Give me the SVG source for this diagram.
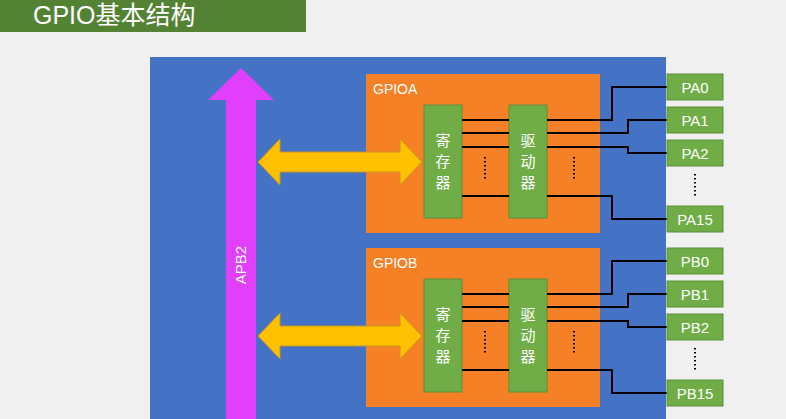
<svg xmlns="http://www.w3.org/2000/svg" width="786" height="419" viewBox="0 0 786 419">
<defs>
<style>
.t{font-family:"Liberation Sans","Noto Sans CJK SC",sans-serif;fill:#fff}
.g{fill:#70AD47;stroke:#5A8F3A;stroke-width:1}
.w{fill:none;stroke:#000;stroke-width:2}
.d{stroke:#000;stroke-width:2;stroke-dasharray:1.5 2.5}
</style>
<g id="gp">
<rect x="366" y="74" width="234" height="159" fill="#F58026"/>
<polygon points="258,162 280,139 280,152 400,152 400,139 422,162 400,185 400,172 280,172 280,185" fill="#FFC000" stroke="#C8961E" stroke-width="1"/>
<rect class="g" x="424" y="105" width="38" height="113"/>
<rect class="g" x="509" y="105" width="38" height="113"/>
<text class="t" x="443" y="146" font-size="15" text-anchor="middle">寄</text>
<text class="t" x="443" y="167" font-size="15" text-anchor="middle">存</text>
<text class="t" x="443" y="188" font-size="15" text-anchor="middle">器</text>
<text class="t" x="528" y="146" font-size="15" text-anchor="middle">驱</text>
<text class="t" x="528" y="167" font-size="15" text-anchor="middle">动</text>
<text class="t" x="528" y="188" font-size="15" text-anchor="middle">器</text>
<path class="w" d="M462 120H509M462 133H509M462 147H509M462 196H509"/>
<path class="w" d="M547 120H612V87H667M547 133H628V120H667M547 147H628V153H667M547 196H612V219H667"/>
<line class="d" x1="485" y1="157" x2="485" y2="180"/>
<line class="d" x1="574" y1="157" x2="574" y2="180"/>
<line class="d" x1="695" y1="174" x2="695" y2="198" stroke-width="1.5"/>
</g>
</defs>
<rect width="786" height="419" fill="#F0F0F0"/>
<g id="title">
<rect x="0" y="0" width="306" height="32" fill="#548235"/>
<text class="t" x="33" y="24" font-size="25">GPIO基本结构</text>
</g>
<rect id="board" x="150" y="57" width="516" height="362" fill="#4472C4"/>
<g id="apb2">
<polygon points="241,68 274,100 256,100 256,419 226,419 226,100 208,100" fill="#E040FB"/>
<text class="t" x="247" y="265" font-size="15" text-anchor="middle" transform="rotate(-90 247 265)" dy="-1">APB2</text>
</g>
<g id="connectors">
<use href="#gp"/>
<use href="#gp" y="174"/>
</g>
<g id="gpioa"><text class="t" x="373" y="94" font-size="14">GPIOA</text></g>
<g id="gpiob"><text class="t" x="373" y="268" font-size="14">GPIOB</text></g>
<g id="pins" font-size="15">
<rect class="g" x="667" y="74" width="56" height="26"/><text class="t" x="695" y="93" text-anchor="middle">PA0</text>
<rect class="g" x="667" y="107" width="56" height="26"/><text class="t" x="695" y="126" text-anchor="middle">PA1</text>
<rect class="g" x="667" y="140" width="56" height="26"/><text class="t" x="695" y="159" text-anchor="middle">PA2</text>
<rect class="g" x="667" y="206" width="56" height="26"/><text class="t" x="695" y="225" text-anchor="middle">PA15</text>
<rect class="g" x="667" y="248" width="56" height="26"/><text class="t" x="695" y="267" text-anchor="middle">PB0</text>
<rect class="g" x="667" y="281" width="56" height="26"/><text class="t" x="695" y="300" text-anchor="middle">PB1</text>
<rect class="g" x="667" y="314" width="56" height="26"/><text class="t" x="695" y="333" text-anchor="middle">PB2</text>
<rect class="g" x="667" y="380" width="56" height="26"/><text class="t" x="695" y="399" text-anchor="middle">PB15</text>
</g>
</svg>
